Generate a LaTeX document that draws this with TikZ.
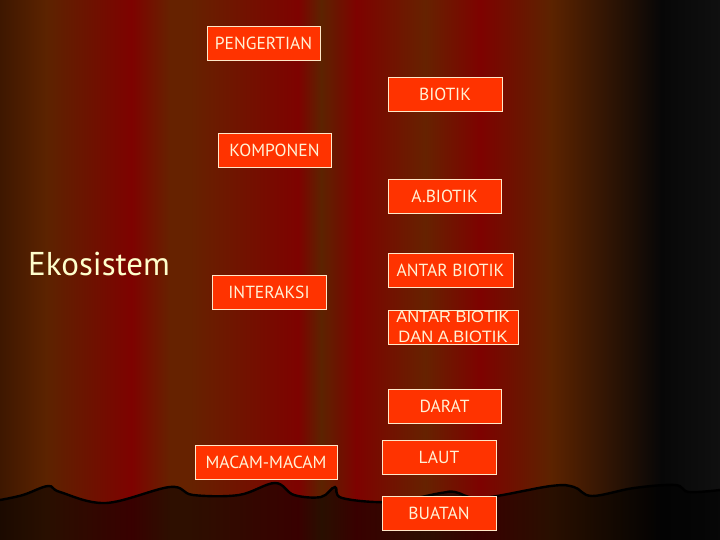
\documentclass[tikz,border=0pt]{standalone}
\usepackage{fontspec}
\setmainfont{PT Sans}
\newfontfamily\tipis{Liberation Sans}
\usepackage{tikz}
\usetikzlibrary{positioning}

\definecolor{kotakisi}{HTML}{FF3300}
\definecolor{garis}{HTML}{FFE8C8}
\definecolor{tulisan}{HTML}{FFF2D6}
\definecolor{krem}{HTML}{FFFFCC}
\definecolor{tiraiA}{HTML}{3E1700}
\definecolor{tiraiB}{HTML}{5C2300}
\definecolor{tiraiC}{HTML}{662200}
\definecolor{merah}{HTML}{7E0200}
\definecolor{gelap}{HTML}{070707}
\definecolor{abu}{HTML}{101010}

\begin{document}
\begin{tikzpicture}[x=1pt,y=-1pt,
  kotak/.style={draw=garis, line width=0.9pt, fill=kotakisi, text=tulisan,
    minimum height=34pt, inner sep=0pt, font=\fontsize{17.5}{19}\selectfont},
  judul/.style={text=krem, inner sep=0pt, font=\fontsize{33}{38}\selectfont}]
  \useasboundingbox (0,0) rectangle (720,540);
  % tirai
  \foreach \xa/\ca/\xb/\cb in {0/tiraiA/46/tiraiB, 46/tiraiB/131/merah,
      131/merah/170/tiraiC, 170/tiraiC/190/tiraiC, 190/tiraiC/298/merah,
      298/merah/321/tiraiB, 321/tiraiB/356/merah, 356/merah/425/tiraiC,
      425/tiraiC/480/merah, 480/merah/551/tiraiB, 551/tiraiB/661/gelap,
      661/gelap/720/abu}
    \shade[left color=\ca, right color=\cb] (\xa,0) rectangle (\xb+0.6,540);
  % bagian bawah
  \fill[black, opacity=0.55] plot[smooth, tension=0.6] coordinates {(0,500) (23,495) (48,486)
      (60,492) (106,503) (170,487) (193,495) (239,495) (275,483) (294,495) (321,497)
      (335,487) (342,498) (390,502) (441,493) (455,492) (482,498) (551,486) (574,487)
      (592,496) (634,488) (675,485) (689,492) (720,490)}
    -- (720,540) -- (0,540) -- cycle;
  \draw[black, line width=2.4pt] plot[smooth, tension=0.6] coordinates {(0,500) (23,495) (48,486)
      (60,492) (106,503) (170,487) (193,495) (239,495) (275,483) (294,495) (321,497)
      (335,487) (342,498) (390,502) (441,493) (455,492) (482,498) (551,486) (574,487)
      (592,496) (634,488) (675,485) (689,492) (720,490)};

  \node[judul, anchor=base west] (eko) at (28,275) {Ekosistem};

  \node[kotak, minimum width=113pt] (pengertian) at (263.5,43) {PENGERTIAN};
  \node[kotak, minimum width=114pt] (biotik) at (445,94) {BIOTIK};
  \node[kotak, minimum width=113pt] (komponen) at (274.5,150) {KOMPONEN};
  \node[kotak, minimum width=113pt] (abiotik) at (444.5,196) {A.BIOTIK};
  \node[kotak, minimum width=125pt] (antarbiotik) at (450.5,270) {ANTAR BIOTIK};
  \node[kotak, minimum width=114pt] (interaksi) at (269,292) {INTERAKSI};
  \node[kotak, minimum width=130pt, align=center,
    font=\tipis\fontsize{16.5}{19.5}\selectfont] (antarabiotik) at (453,327)
    {ANTAR BIOTIK\\DAN A.BIOTIK};
  \node[kotak, minimum width=113pt] (darat) at (444.5,406) {DARAT};
  \node[kotak, minimum width=114pt] (laut) at (439,457) {LAUT};
  \node[kotak, minimum width=142pt] (macam) at (266,462) {MACAM-MACAM};
  \node[kotak, minimum width=114pt] (buatan) at (439,513) {BUATAN};
\end{tikzpicture}
\end{document}
